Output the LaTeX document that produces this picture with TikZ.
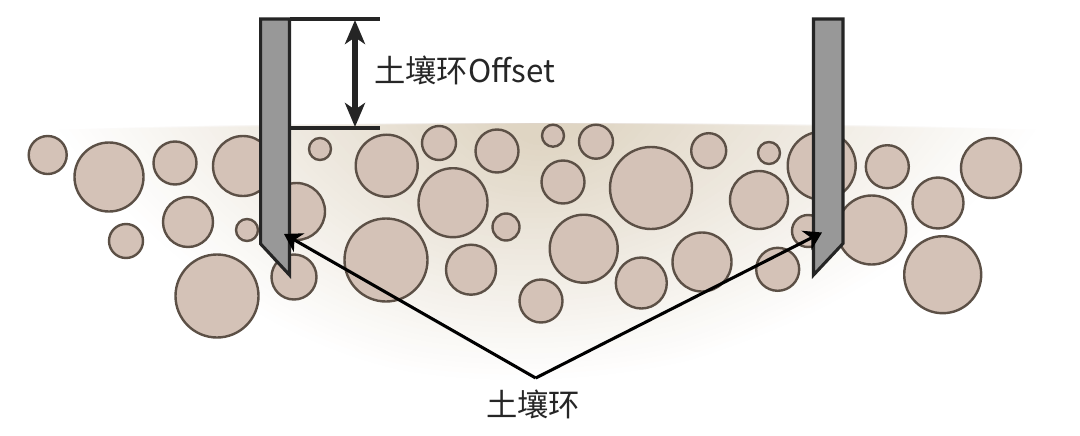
\documentclass[tikz,border=0pt]{standalone}
\usepackage{fontspec}
\newfontfamily\cjk{Noto Sans CJK SC}
\usetikzlibrary{arrows.meta}
\definecolor{soil}{HTML}{DFD5C3}
\definecolor{pebblefill}{HTML}{D4C2B7}
\definecolor{pebbleedge}{HTML}{5C5046}
\definecolor{bladefill}{HTML}{989898}
\definecolor{bladeedge}{HTML}{252525}
\tikzset{
  pebble/.style={draw=pebbleedge,fill=pebblefill,line width=1.8pt},
  blade/.style={draw=bladeedge,fill=bladefill,line width=2.3pt,line join=miter},
  limitline/.style={draw=bladeedge,line width=3pt},
  span/.style={draw=bladeedge,line width=4pt,{Stealth[length=18pt,width=15pt,inset=5pt]}-{Stealth[length=18pt,width=15pt,inset=5pt]}},
  pointer/.style={draw=black,line width=2.3pt,-{Stealth[length=13pt,width=16pt,inset=4pt]}},
  caption/.style={font=\cjk\fontsize{23.5}{27}\selectfont,text=black!85,inner sep=0pt}
}
\begin{document}
\begin{tikzpicture}[x=0.75pt,y=-0.75pt]
\useasboundingbox (0,0) rectangle (1080,435);
\fill[white] (0,0) rectangle (1080,435);

% Soil bowl: nested opaque layers step from white to soil colour towards the top centre
\foreach \s in {1.00,0.98,...,0.06}{
  \pgfmathsetmacro{\mixpct}{min(100,(1-\s)*108)}
  \begin{scope}[shift={(545,124)},xscale=\s,yscale=\s]
    \fill[soil!\mixpct!white]
      (-495,6) .. controls (-330,0) and (-150,-1) .. (0,0)
      .. controls (150,-1) and (340,0) .. (500,6)
      .. controls (440,90) and (340,180) .. (150,240)
      .. controls (60,262) and (-60,268) .. (-150,250)
      .. controls (-300,215) and (-420,110) .. (-495,6) -- cycle;
  \end{scope}
}

% Pebbles
\foreach \cx/\cy/\r in {
  47.7/155/19, 109/177/34.5, 175/163/21.5, 243/166/30, 320/149/11,
  296.5/211.5/28.5, 126/241/17, 188/222/25, 247/230/11, 217/296/41.5,
  294/277/22.5, 386.7/165.7/31, 439/143/17, 497/151/21.5, 553/135.7/11,
  596/141.7/17, 563/182/21.5, 651/188/41, 708.7/150.7/17.5, 453/202.7/34.5,
  506/227/13.5, 386/260/41.5, 471/269.7/25, 583.7/248.7/34, 541/301/21.5,
  641.3/283/25.5, 702/262/29.5, 769/153/11, 759/200/29, 821.7/165.7/34,
  777.7/269.3/21.5, 808/231/16, 887.3/166.7/21.5, 871.7/230/34.5,
  938/203/25.5, 991/168/30, 942.7/274.7/38.5}{
  \path[pebble] (\cx,\cy) circle[radius=\r*0.75pt];
}

% Sheet piles with bevelled feet
\path[blade] (260.7,19) -- (289.5,19) -- (289.5,275) -- (260.7,244) -- cycle;
\path[blade] (813.5,19) -- (843,19) -- (843,243.5) -- (813.5,275) -- cycle;

% Offset dimension
\coordinate (offsetTopL) at (290,19);
\coordinate (offsetTopR) at (380,19);
\coordinate (offsetBotL) at (290,128);
\coordinate (offsetBotR) at (380,128);
\coordinate (spanTop) at (355,20);
\coordinate (spanBot) at (355,127);
\path[limitline] (offsetTopL) -- (offsetTopR);
\path[limitline] (offsetBotL) -- (offsetBotR);
\path[span] (spanTop) -- (spanBot);
\node[caption,anchor=base west] (offsetLabel) at (374,83) {土壤环Offset};

% Collar label with pointers to both pile feet
\node[caption] (collarLabel) at (533,404) {土壤环};
\coordinate (apex) at (535.7,378);
\coordinate (leftFoot) at (284,234);
\coordinate (rightFoot) at (822,232.5);
\path[pointer] (apex) -- (leftFoot);
\path[pointer] (apex) -- (rightFoot);
\end{tikzpicture}
\end{document}
